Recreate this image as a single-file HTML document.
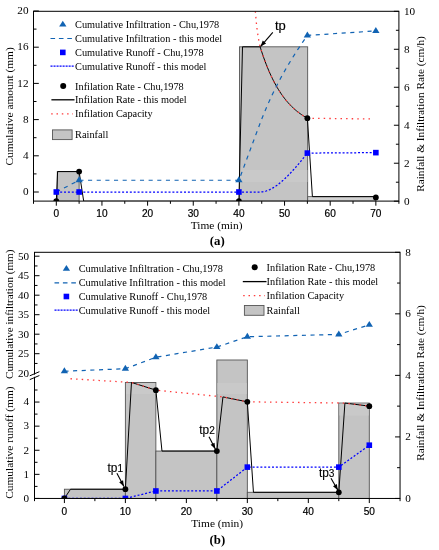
<!DOCTYPE html>
<html lang="en"><head><meta charset="utf-8"><title>Figure</title>
<style>html,body{margin:0;padding:0;background:#fff}body{width:439px;height:550px;overflow:hidden}svg text{fill:#000}</style>
</head><body>
<svg width="439" height="550" viewBox="0 0 439 550" style="display:block">
<rect width="439" height="550" fill="#fff"/>
<clipPath id="c1"><rect x="33.5" y="11.3" width="365.4" height="189.79999999999998"/></clipPath>
<g clip-path="url(#c1)">
<rect x="57.30" y="171.58" width="21.83" height="29.52" fill="#c4c4c4" stroke="#555555" stroke-width="0.9"/>
<rect x="239.50" y="46.81" width="68.17" height="154.29" fill="#c4c4c4" stroke="#555555" stroke-width="0.9"/>
<rect x="307.68" y="196.64" width="68.18" height="4.46" fill="#d2d2d2" stroke="#555555" stroke-width="0.9"/>
<rect x="240.10" y="170" width="67.27" height="12" fill="#c9c9c9"/>
<polyline points="56.30,201.20 57.60,171.58 79.12,171.58 83.69,201.20 238.90,201.20 242.50,46.81 260.13,46.81 260.13,46.81 261.34,50.63 262.55,54.28 263.76,57.77 264.97,61.11 266.18,64.29 267.40,67.34 268.61,70.25 269.82,73.03 271.03,75.69 272.24,78.22 273.45,80.65 274.67,82.97 275.88,85.18 277.09,87.30 278.30,89.32 279.51,91.26 280.72,93.10 281.93,94.87 283.15,96.55 284.36,98.17 285.57,99.71 286.78,101.18 287.99,102.58 289.20,103.93 290.41,105.21 291.63,106.44 292.84,107.61 294.05,108.73 295.26,109.80 296.47,110.83 297.68,111.80 298.89,112.74 300.11,113.63 301.32,114.48 302.53,115.30 303.74,116.08 304.95,116.82 306.16,117.53 307.38,118.21 312.40,196.64 375.85,196.64" fill="none" stroke="#000" stroke-width="1.0" stroke-linejoin="round"/>
<polyline points="255.33,11.30 256.70,26.49 258.30,37.89 260.13,46.81 260.13,46.81 261.34,50.63 262.55,54.28 263.76,57.77 264.97,61.11 266.18,64.29 267.40,67.34 268.61,70.25 269.82,73.03 271.03,75.69 272.24,78.22 273.45,80.65 274.67,82.97 275.88,85.18 277.09,87.30 278.30,89.32 279.51,91.26 280.72,93.10 281.93,94.87 283.15,96.55 284.36,98.17 285.57,99.71 286.78,101.18 287.99,102.58 289.20,103.93 290.41,105.21 291.63,106.44 292.84,107.61 294.05,108.73 295.26,109.80 296.47,110.83 297.68,111.80 298.89,112.74 300.11,113.63 301.32,114.48 302.53,115.30 303.74,116.08 304.95,116.82 306.16,117.53 307.38,118.21 321.07,118.40 373.57,118.97" fill="none" stroke="#ff3b3b" stroke-width="1.3" stroke-dasharray="1.5 4.1" />
<polyline points="56.30,192.00 79.12,180.24 238.90,180.24 260.13,123.21 260.13,123.21 261.34,120.05 262.55,116.97 263.76,113.97 264.97,111.03 266.18,108.16 267.40,105.36 268.61,102.62 269.82,99.93 271.03,97.30 272.24,94.73 273.45,92.21 274.67,89.74 275.88,87.31 277.09,84.93 278.30,82.59 279.51,80.29 280.72,78.04 281.93,75.82 283.15,73.63 284.36,71.48 285.57,69.36 286.78,67.27 287.99,65.22 289.20,63.19 290.41,61.19 291.63,59.21 292.84,57.26 294.05,55.33 295.26,53.43 296.47,51.55 297.68,49.69 298.89,47.84 300.11,46.02 301.32,44.22 302.53,42.43 303.74,40.66 304.95,38.90 306.16,37.16 307.38,35.43 375.85,30.91" fill="none" stroke="#1163b3" stroke-width="1.2" stroke-dasharray="4.1 4.55" />
<polyline points="56.30,192.00 238.90,192.00 260.13,192.00 260.13,192.00 261.34,191.96 262.55,191.84 263.76,191.63 264.97,191.36 266.18,191.01 267.40,190.60 268.61,190.12 269.82,189.58 271.03,188.97 272.24,188.32 273.45,187.60 274.67,186.84 275.88,186.03 277.09,185.17 278.30,184.26 279.51,183.31 280.72,182.32 281.93,181.29 283.15,180.23 284.36,179.12 285.57,177.99 286.78,176.82 287.99,175.61 289.20,174.38 290.41,173.12 291.63,171.83 292.84,170.52 294.05,169.18 295.26,167.82 296.47,166.43 297.68,165.02 298.89,163.60 300.11,162.15 301.32,160.68 302.53,159.19 303.74,157.69 304.95,156.17 306.16,154.64 307.38,153.09 375.85,152.63" fill="none" stroke="#0000ff" stroke-width="1.25" stroke-dasharray="2 1.87" />
</g>
<g clip-path="url(#c1)">
<circle cx="56.30" cy="201.20" r="2.9" fill="#000"/>
<circle cx="238.90" cy="201.20" r="2.9" fill="#000"/>
</g>
<circle cx="79.12" cy="171.58" r="2.9" fill="#000"/>
<circle cx="307.38" cy="118.21" r="2.9" fill="#000"/>
<circle cx="375.85" cy="197.40" r="2.9" fill="#000"/>
<polygon points="79.12,176.34 75.47,182.24 82.78,182.24" fill="#1163b3"/>
<polygon points="238.90,176.34 235.25,182.24 242.55,182.24" fill="#1163b3"/>
<polygon points="307.38,31.53 303.73,37.43 311.02,37.43" fill="#1163b3"/>
<polygon points="375.85,27.01 372.20,32.91 379.50,32.91" fill="#1163b3"/>
<rect x="53.50" y="189.20" width="5.60" height="5.60" fill="#0000ff"/>
<rect x="76.33" y="189.20" width="5.60" height="5.60" fill="#0000ff"/>
<rect x="236.10" y="189.20" width="5.60" height="5.60" fill="#0000ff"/>
<rect x="304.57" y="150.28" width="5.60" height="5.60" fill="#0000ff"/>
<rect x="373.05" y="149.83" width="5.60" height="5.60" fill="#0000ff"/>
<rect x="33.5" y="11.3" width="365.4" height="189.79999999999998" fill="none" stroke="#000" stroke-width="1"/>
<line x1="33.50" y1="192.00" x2="38.80" y2="192.00" stroke="#000" stroke-width="1"/>
<text x="28.50" y="195.20" font-family="Liberation Serif, serif" font-size="11.2" text-anchor="end" font-weight="normal" >0</text>
<line x1="33.50" y1="173.90" x2="36.50" y2="173.90" stroke="#000" stroke-width="1"/>
<line x1="33.50" y1="155.80" x2="38.80" y2="155.80" stroke="#000" stroke-width="1"/>
<text x="28.50" y="159.00" font-family="Liberation Serif, serif" font-size="11.2" text-anchor="end" font-weight="normal" >4</text>
<line x1="33.50" y1="137.70" x2="36.50" y2="137.70" stroke="#000" stroke-width="1"/>
<line x1="33.50" y1="119.60" x2="38.80" y2="119.60" stroke="#000" stroke-width="1"/>
<text x="28.50" y="122.80" font-family="Liberation Serif, serif" font-size="11.2" text-anchor="end" font-weight="normal" >8</text>
<line x1="33.50" y1="101.50" x2="36.50" y2="101.50" stroke="#000" stroke-width="1"/>
<line x1="33.50" y1="83.40" x2="38.80" y2="83.40" stroke="#000" stroke-width="1"/>
<text x="28.50" y="86.60" font-family="Liberation Serif, serif" font-size="11.2" text-anchor="end" font-weight="normal" >12</text>
<line x1="33.50" y1="65.30" x2="36.50" y2="65.30" stroke="#000" stroke-width="1"/>
<line x1="33.50" y1="47.20" x2="38.80" y2="47.20" stroke="#000" stroke-width="1"/>
<text x="28.50" y="50.40" font-family="Liberation Serif, serif" font-size="11.2" text-anchor="end" font-weight="normal" >16</text>
<line x1="33.50" y1="29.10" x2="36.50" y2="29.10" stroke="#000" stroke-width="1"/>
<line x1="33.50" y1="11.00" x2="38.80" y2="11.00" stroke="#000" stroke-width="1"/>
<text x="28.50" y="14.20" font-family="Liberation Serif, serif" font-size="11.2" text-anchor="end" font-weight="normal" >20</text>
<line x1="393.90" y1="201.20" x2="398.90" y2="201.20" stroke="#000" stroke-width="1"/>
<text x="403.90" y="204.50" font-family="Liberation Serif, serif" font-size="11.2" text-anchor="start" font-weight="normal" >0</text>
<line x1="395.90" y1="182.21" x2="398.90" y2="182.21" stroke="#000" stroke-width="1"/>
<line x1="393.90" y1="163.22" x2="398.90" y2="163.22" stroke="#000" stroke-width="1"/>
<text x="403.90" y="166.52" font-family="Liberation Serif, serif" font-size="11.2" text-anchor="start" font-weight="normal" >2</text>
<line x1="395.90" y1="144.23" x2="398.90" y2="144.23" stroke="#000" stroke-width="1"/>
<line x1="393.90" y1="125.24" x2="398.90" y2="125.24" stroke="#000" stroke-width="1"/>
<text x="403.90" y="128.54" font-family="Liberation Serif, serif" font-size="11.2" text-anchor="start" font-weight="normal" >4</text>
<line x1="395.90" y1="106.25" x2="398.90" y2="106.25" stroke="#000" stroke-width="1"/>
<line x1="393.90" y1="87.26" x2="398.90" y2="87.26" stroke="#000" stroke-width="1"/>
<text x="403.90" y="90.56" font-family="Liberation Serif, serif" font-size="11.2" text-anchor="start" font-weight="normal" >6</text>
<line x1="395.90" y1="68.27" x2="398.90" y2="68.27" stroke="#000" stroke-width="1"/>
<line x1="393.90" y1="49.28" x2="398.90" y2="49.28" stroke="#000" stroke-width="1"/>
<text x="403.90" y="52.58" font-family="Liberation Serif, serif" font-size="11.2" text-anchor="start" font-weight="normal" >8</text>
<line x1="395.90" y1="30.29" x2="398.90" y2="30.29" stroke="#000" stroke-width="1"/>
<line x1="393.90" y1="11.30" x2="398.90" y2="11.30" stroke="#000" stroke-width="1"/>
<text x="403.90" y="14.60" font-family="Liberation Serif, serif" font-size="11.2" text-anchor="start" font-weight="normal" >10</text>
<line x1="33.50" y1="201.10" x2="33.50" y2="203.80" stroke="#000" stroke-width="1"/>
<line x1="56.30" y1="201.10" x2="56.30" y2="205.70" stroke="#000" stroke-width="1"/>
<text x="56.30" y="217.00" font-family="Liberation Sans, serif" font-size="10.1" text-anchor="middle" font-weight="normal" stroke="#000" stroke-width="0.2">0</text>
<line x1="79.12" y1="201.10" x2="79.12" y2="203.80" stroke="#000" stroke-width="1"/>
<line x1="101.95" y1="201.10" x2="101.95" y2="205.70" stroke="#000" stroke-width="1"/>
<text x="101.95" y="217.00" font-family="Liberation Sans, serif" font-size="10.1" text-anchor="middle" font-weight="normal" stroke="#000" stroke-width="0.2">10</text>
<line x1="124.78" y1="201.10" x2="124.78" y2="203.80" stroke="#000" stroke-width="1"/>
<line x1="147.60" y1="201.10" x2="147.60" y2="205.70" stroke="#000" stroke-width="1"/>
<text x="147.60" y="217.00" font-family="Liberation Sans, serif" font-size="10.1" text-anchor="middle" font-weight="normal" stroke="#000" stroke-width="0.2">20</text>
<line x1="170.43" y1="201.10" x2="170.43" y2="203.80" stroke="#000" stroke-width="1"/>
<line x1="193.25" y1="201.10" x2="193.25" y2="205.70" stroke="#000" stroke-width="1"/>
<text x="193.25" y="217.00" font-family="Liberation Sans, serif" font-size="10.1" text-anchor="middle" font-weight="normal" stroke="#000" stroke-width="0.2">30</text>
<line x1="216.07" y1="201.10" x2="216.07" y2="203.80" stroke="#000" stroke-width="1"/>
<line x1="238.90" y1="201.10" x2="238.90" y2="205.70" stroke="#000" stroke-width="1"/>
<text x="238.90" y="217.00" font-family="Liberation Sans, serif" font-size="10.1" text-anchor="middle" font-weight="normal" stroke="#000" stroke-width="0.2">40</text>
<line x1="261.73" y1="201.10" x2="261.73" y2="203.80" stroke="#000" stroke-width="1"/>
<line x1="284.55" y1="201.10" x2="284.55" y2="205.70" stroke="#000" stroke-width="1"/>
<text x="284.55" y="217.00" font-family="Liberation Sans, serif" font-size="10.1" text-anchor="middle" font-weight="normal" stroke="#000" stroke-width="0.2">50</text>
<line x1="307.38" y1="201.10" x2="307.38" y2="203.80" stroke="#000" stroke-width="1"/>
<line x1="330.20" y1="201.10" x2="330.20" y2="205.70" stroke="#000" stroke-width="1"/>
<text x="330.20" y="217.00" font-family="Liberation Sans, serif" font-size="10.1" text-anchor="middle" font-weight="normal" stroke="#000" stroke-width="0.2">60</text>
<line x1="353.03" y1="201.10" x2="353.03" y2="203.80" stroke="#000" stroke-width="1"/>
<line x1="375.85" y1="201.10" x2="375.85" y2="205.70" stroke="#000" stroke-width="1"/>
<text x="375.85" y="217.00" font-family="Liberation Sans, serif" font-size="10.1" text-anchor="middle" font-weight="normal" stroke="#000" stroke-width="0.2">70</text>
<line x1="398.90" y1="201.10" x2="398.90" y2="203.80" stroke="#000" stroke-width="1"/>
<text x="216.60" y="229.30" font-family="Liberation Serif, serif" font-size="11.4" text-anchor="middle" font-weight="normal" >Time (min)</text>
<text x="217.20" y="245.30" font-family="Liberation Serif, serif" font-size="12.8" text-anchor="middle" font-weight="bold" >(a)</text>
<text transform="translate(13.10,106.40) rotate(-90)" font-family="Liberation Serif, serif" font-size="11.4" text-anchor="middle">Cumulative amount (mm)</text>
<text transform="translate(424.20,114.00) rotate(-90)" font-family="Liberation Serif, serif" font-size="11.25" text-anchor="middle">Rainfall &amp; Infiltration Rate (cm/h)</text>
<text x="274.90" y="29.70" font-family="Liberation Sans, serif" font-size="13" text-anchor="start" font-weight="normal" stroke="#000" stroke-width="0.15">tp</text>
<line x1="272.80" y1="32.40" x2="260.50" y2="46.60" stroke="#000" stroke-width="1.1"/><polygon points="260.50,46.60 262.77,40.62 266.09,43.51" fill="#000"/>
<text x="75.10" y="28.10" font-family="Liberation Serif, serif" font-size="10.3" text-anchor="start" font-weight="normal" >Cumulative Infiltration - Chu,1978</text>
<text x="75.10" y="42.00" font-family="Liberation Serif, serif" font-size="10.3" text-anchor="start" font-weight="normal" >Cumulative Infiltration - this model</text>
<text x="75.10" y="55.90" font-family="Liberation Serif, serif" font-size="10.3" text-anchor="start" font-weight="normal" >Cumulative Runoff - Chu,1978</text>
<text x="75.10" y="69.50" font-family="Liberation Serif, serif" font-size="10.3" text-anchor="start" font-weight="normal" >Cumulative Runoff - this model</text>
<text x="75.10" y="89.50" font-family="Liberation Serif, serif" font-size="10.3" text-anchor="start" font-weight="normal" >Infilation Rate - Chu,1978</text>
<text x="75.10" y="103.30" font-family="Liberation Serif, serif" font-size="10.3" text-anchor="start" font-weight="normal" >Infilation Rate - this model</text>
<text x="75.10" y="117.30" font-family="Liberation Serif, serif" font-size="10.3" text-anchor="start" font-weight="normal" >Infilation Capacity</text>
<text x="75.10" y="138.30" font-family="Liberation Serif, serif" font-size="10.3" text-anchor="start" font-weight="normal" >Rainfall</text>
<polygon points="62.80,20.70 59.15,26.60 66.45,26.60" fill="#1163b3"/>
<polyline points="50.50,38.50 73.00,38.50" fill="none" stroke="#1163b3" stroke-width="1.2" stroke-dasharray="4.6 3.8" />
<rect x="60.00" y="49.60" width="5.60" height="5.60" fill="#0000ff"/>
<polyline points="50.50,66.00 74.50,66.00" fill="none" stroke="#0000ff" stroke-width="1.25" stroke-dasharray="2.05 0.97" />
<circle cx="63.20" cy="86.00" r="3.0" fill="#000"/>
<line x1="51.40" y1="99.80" x2="74.50" y2="99.80" stroke="#000" stroke-width="1.3"/>
<polyline points="51.20,113.80 73.00,113.80" fill="none" stroke="#ff3b3b" stroke-width="1.3" stroke-dasharray="1.5 3.8" />
<rect x="52.5" y="129.9" width="19.6" height="9.7" fill="#c4c4c4" stroke="#555555" stroke-width="0.9"/>
<clipPath id="c2"><rect x="34.5" y="252.3" width="365.55" height="246.14999999999998"/></clipPath>
<g clip-path="url(#c2)">
<rect x="64.40" y="489.22" width="60.98" height="9.23" fill="#c4c4c4" stroke="#555555" stroke-width="0.9"/>
<rect x="125.38" y="382.45" width="30.49" height="116.00" fill="#c4c4c4" stroke="#555555" stroke-width="0.9"/>
<rect x="155.87" y="451.06" width="60.98" height="47.39" fill="#c4c4c4" stroke="#555555" stroke-width="0.9"/>
<rect x="216.85" y="359.99" width="30.49" height="138.46" fill="#c4c4c4" stroke="#555555" stroke-width="0.9"/>
<rect x="247.34" y="492.30" width="91.47" height="6.15" fill="#c4c4c4" stroke="#555555" stroke-width="0.9"/>
<rect x="338.81" y="403.06" width="30.49" height="95.39" fill="#c4c4c4" stroke="#555555" stroke-width="0.9"/>
<rect x="125.98" y="383.40" width="29.29" height="10.60" fill="#c9c9c9"/>
<rect x="217.45" y="383.00" width="29.29" height="11.00" fill="#c9c9c9"/>
<rect x="339.41" y="403.60" width="29.29" height="11.90" fill="#c9c9c9"/>
<polyline points="64.40,498.45 70.50,489.22 125.38,489.22 131.48,382.45 155.87,390.14 161.97,451.06 216.85,451.06 222.95,396.91 247.34,401.83 253.44,492.30 338.81,492.30 344.91,403.06 369.30,406.14" fill="none" stroke="#000" stroke-width="1.0" stroke-linejoin="round"/>
<polyline points="70.50,378.75 131.48,382.45 155.87,390.14 222.95,396.91 247.34,401.83 344.91,403.06 369.30,406.14" fill="none" stroke="#ff3b3b" stroke-width="1.3" stroke-dasharray="1.5 4.1" />
<polyline points="64.40,498.45 125.38,498.45 155.87,490.98 216.85,490.98 247.34,467.12 338.81,467.12 369.30,445.19" fill="none" stroke="#0000ff" stroke-width="1.25" stroke-dasharray="2 1.87" />
</g>
<polyline points="64.40,371.25 125.38,368.71 155.87,357.21 216.85,347.07 247.34,336.74 338.81,334.39 369.30,324.84" fill="none" stroke="#1163b3" stroke-width="1.2" stroke-dasharray="4.1 4.55" />
<g clip-path="url(#c2)">
<rect x="61.60" y="495.65" width="5.60" height="5.60" fill="#0000ff"/>
<circle cx="64.40" cy="498.45" r="2.9" fill="#000"/>
<rect x="122.58" y="495.65" width="5.60" height="5.60" fill="#0000ff"/>
</g>
<circle cx="125.38" cy="489.22" r="2.9" fill="#000"/>
<circle cx="155.87" cy="390.14" r="2.9" fill="#000"/>
<circle cx="216.85" cy="451.06" r="2.9" fill="#000"/>
<circle cx="247.34" cy="401.83" r="2.9" fill="#000"/>
<circle cx="338.81" cy="492.30" r="2.9" fill="#000"/>
<circle cx="369.30" cy="406.14" r="2.9" fill="#000"/>
<rect x="153.07" y="488.18" width="5.60" height="5.60" fill="#0000ff"/>
<rect x="214.05" y="488.18" width="5.60" height="5.60" fill="#0000ff"/>
<rect x="244.54" y="464.32" width="5.60" height="5.60" fill="#0000ff"/>
<rect x="336.01" y="464.32" width="5.60" height="5.60" fill="#0000ff"/>
<rect x="366.50" y="442.39" width="5.60" height="5.60" fill="#0000ff"/>
<polygon points="64.40,367.35 60.75,373.25 68.05,373.25" fill="#1163b3"/>
<polygon points="125.38,364.81 121.73,370.71 129.03,370.71" fill="#1163b3"/>
<polygon points="155.87,353.31 152.22,359.21 159.52,359.21" fill="#1163b3"/>
<polygon points="216.85,343.17 213.20,349.07 220.50,349.07" fill="#1163b3"/>
<polygon points="247.34,332.84 243.69,338.74 250.99,338.74" fill="#1163b3"/>
<polygon points="338.81,330.50 335.16,336.39 342.46,336.39" fill="#1163b3"/>
<polygon points="369.30,320.94 365.65,326.84 372.95,326.84" fill="#1163b3"/>
<rect x="34.5" y="252.3" width="365.55" height="246.14999999999998" fill="none" stroke="#000" stroke-width="1"/>
<rect x="32.5" y="374.6" width="4" height="2.2" fill="#fff"/>
<line x1="29.80" y1="375.80" x2="39.40" y2="371.70" stroke="#000" stroke-width="1.0"/>
<line x1="29.80" y1="379.60" x2="39.40" y2="375.50" stroke="#000" stroke-width="1.0"/>
<text x="29.10" y="376.50" font-family="Liberation Serif, serif" font-size="11.1" text-anchor="end" font-weight="normal" >20</text>
<line x1="34.50" y1="363.45" x2="37.50" y2="363.45" stroke="#000" stroke-width="1"/>
<line x1="34.50" y1="353.70" x2="39.50" y2="353.70" stroke="#000" stroke-width="1"/>
<text x="29.10" y="357.00" font-family="Liberation Serif, serif" font-size="11.1" text-anchor="end" font-weight="normal" >25</text>
<line x1="34.50" y1="343.95" x2="37.50" y2="343.95" stroke="#000" stroke-width="1"/>
<line x1="34.50" y1="334.20" x2="39.50" y2="334.20" stroke="#000" stroke-width="1"/>
<text x="29.10" y="337.50" font-family="Liberation Serif, serif" font-size="11.1" text-anchor="end" font-weight="normal" >30</text>
<line x1="34.50" y1="324.45" x2="37.50" y2="324.45" stroke="#000" stroke-width="1"/>
<line x1="34.50" y1="314.70" x2="39.50" y2="314.70" stroke="#000" stroke-width="1"/>
<text x="29.10" y="318.00" font-family="Liberation Serif, serif" font-size="11.1" text-anchor="end" font-weight="normal" >35</text>
<line x1="34.50" y1="304.95" x2="37.50" y2="304.95" stroke="#000" stroke-width="1"/>
<line x1="34.50" y1="295.20" x2="39.50" y2="295.20" stroke="#000" stroke-width="1"/>
<text x="29.10" y="298.50" font-family="Liberation Serif, serif" font-size="11.1" text-anchor="end" font-weight="normal" >40</text>
<line x1="34.50" y1="285.45" x2="37.50" y2="285.45" stroke="#000" stroke-width="1"/>
<line x1="34.50" y1="275.70" x2="39.50" y2="275.70" stroke="#000" stroke-width="1"/>
<text x="29.10" y="279.00" font-family="Liberation Serif, serif" font-size="11.1" text-anchor="end" font-weight="normal" >45</text>
<line x1="34.50" y1="265.95" x2="37.50" y2="265.95" stroke="#000" stroke-width="1"/>
<line x1="34.50" y1="256.20" x2="39.50" y2="256.20" stroke="#000" stroke-width="1"/>
<text x="29.10" y="259.50" font-family="Liberation Serif, serif" font-size="11.1" text-anchor="end" font-weight="normal" >50</text>
<line x1="34.50" y1="498.45" x2="39.50" y2="498.45" stroke="#000" stroke-width="1"/>
<text x="29.10" y="501.75" font-family="Liberation Serif, serif" font-size="11.1" text-anchor="end" font-weight="normal" >0</text>
<line x1="34.50" y1="486.40" x2="37.50" y2="486.40" stroke="#000" stroke-width="1"/>
<line x1="34.50" y1="474.35" x2="39.50" y2="474.35" stroke="#000" stroke-width="1"/>
<text x="29.10" y="477.65" font-family="Liberation Serif, serif" font-size="11.1" text-anchor="end" font-weight="normal" >1</text>
<line x1="34.50" y1="462.30" x2="37.50" y2="462.30" stroke="#000" stroke-width="1"/>
<line x1="34.50" y1="450.25" x2="39.50" y2="450.25" stroke="#000" stroke-width="1"/>
<text x="29.10" y="453.55" font-family="Liberation Serif, serif" font-size="11.1" text-anchor="end" font-weight="normal" >2</text>
<line x1="34.50" y1="438.20" x2="37.50" y2="438.20" stroke="#000" stroke-width="1"/>
<line x1="34.50" y1="426.15" x2="39.50" y2="426.15" stroke="#000" stroke-width="1"/>
<text x="29.10" y="429.45" font-family="Liberation Serif, serif" font-size="11.1" text-anchor="end" font-weight="normal" >3</text>
<line x1="34.50" y1="414.10" x2="37.50" y2="414.10" stroke="#000" stroke-width="1"/>
<line x1="34.50" y1="402.05" x2="39.50" y2="402.05" stroke="#000" stroke-width="1"/>
<text x="29.10" y="405.35" font-family="Liberation Serif, serif" font-size="11.1" text-anchor="end" font-weight="normal" >4</text>
<line x1="34.50" y1="390.00" x2="37.50" y2="390.00" stroke="#000" stroke-width="1"/>
<line x1="395.05" y1="498.45" x2="400.05" y2="498.45" stroke="#000" stroke-width="1"/>
<text x="405.25" y="501.85" font-family="Liberation Serif, serif" font-size="11.2" text-anchor="start" font-weight="normal" >0</text>
<line x1="397.05" y1="467.68" x2="400.05" y2="467.68" stroke="#000" stroke-width="1"/>
<line x1="395.05" y1="436.91" x2="400.05" y2="436.91" stroke="#000" stroke-width="1"/>
<text x="405.25" y="440.31" font-family="Liberation Serif, serif" font-size="11.2" text-anchor="start" font-weight="normal" >2</text>
<line x1="397.05" y1="406.14" x2="400.05" y2="406.14" stroke="#000" stroke-width="1"/>
<line x1="395.05" y1="375.37" x2="400.05" y2="375.37" stroke="#000" stroke-width="1"/>
<text x="405.25" y="378.77" font-family="Liberation Serif, serif" font-size="11.2" text-anchor="start" font-weight="normal" >4</text>
<line x1="397.05" y1="344.60" x2="400.05" y2="344.60" stroke="#000" stroke-width="1"/>
<line x1="395.05" y1="313.83" x2="400.05" y2="313.83" stroke="#000" stroke-width="1"/>
<text x="405.25" y="317.23" font-family="Liberation Serif, serif" font-size="11.2" text-anchor="start" font-weight="normal" >6</text>
<line x1="397.05" y1="283.06" x2="400.05" y2="283.06" stroke="#000" stroke-width="1"/>
<line x1="395.05" y1="252.29" x2="400.05" y2="252.29" stroke="#000" stroke-width="1"/>
<text x="405.25" y="255.69" font-family="Liberation Serif, serif" font-size="11.2" text-anchor="start" font-weight="normal" >8</text>
<line x1="34.50" y1="498.45" x2="34.50" y2="501.15" stroke="#000" stroke-width="1"/>
<line x1="64.40" y1="498.45" x2="64.40" y2="503.05" stroke="#000" stroke-width="1"/>
<text x="64.40" y="514.65" font-family="Liberation Sans, serif" font-size="10.1" text-anchor="middle" font-weight="normal" stroke="#000" stroke-width="0.2">0</text>
<line x1="94.89" y1="498.45" x2="94.89" y2="501.15" stroke="#000" stroke-width="1"/>
<line x1="125.38" y1="498.45" x2="125.38" y2="503.05" stroke="#000" stroke-width="1"/>
<text x="125.38" y="514.65" font-family="Liberation Sans, serif" font-size="10.1" text-anchor="middle" font-weight="normal" stroke="#000" stroke-width="0.2">10</text>
<line x1="155.87" y1="498.45" x2="155.87" y2="501.15" stroke="#000" stroke-width="1"/>
<line x1="186.36" y1="498.45" x2="186.36" y2="503.05" stroke="#000" stroke-width="1"/>
<text x="186.36" y="514.65" font-family="Liberation Sans, serif" font-size="10.1" text-anchor="middle" font-weight="normal" stroke="#000" stroke-width="0.2">20</text>
<line x1="216.85" y1="498.45" x2="216.85" y2="501.15" stroke="#000" stroke-width="1"/>
<line x1="247.34" y1="498.45" x2="247.34" y2="503.05" stroke="#000" stroke-width="1"/>
<text x="247.34" y="514.65" font-family="Liberation Sans, serif" font-size="10.1" text-anchor="middle" font-weight="normal" stroke="#000" stroke-width="0.2">30</text>
<line x1="277.83" y1="498.45" x2="277.83" y2="501.15" stroke="#000" stroke-width="1"/>
<line x1="308.32" y1="498.45" x2="308.32" y2="503.05" stroke="#000" stroke-width="1"/>
<text x="308.32" y="514.65" font-family="Liberation Sans, serif" font-size="10.1" text-anchor="middle" font-weight="normal" stroke="#000" stroke-width="0.2">40</text>
<line x1="338.81" y1="498.45" x2="338.81" y2="501.15" stroke="#000" stroke-width="1"/>
<line x1="369.30" y1="498.45" x2="369.30" y2="503.05" stroke="#000" stroke-width="1"/>
<text x="369.30" y="514.65" font-family="Liberation Sans, serif" font-size="10.1" text-anchor="middle" font-weight="normal" stroke="#000" stroke-width="0.2">50</text>
<line x1="400.05" y1="498.45" x2="400.05" y2="501.15" stroke="#000" stroke-width="1"/>
<text x="217.20" y="527.00" font-family="Liberation Serif, serif" font-size="11.4" text-anchor="middle" font-weight="normal" >Time (min)</text>
<text x="217.40" y="544.00" font-family="Liberation Serif, serif" font-size="12.8" text-anchor="middle" font-weight="bold" >(b)</text>
<text transform="translate(13.40,314.30) rotate(-90)" font-family="Liberation Serif, serif" font-size="11.1" text-anchor="middle">Cumulative infiltration (mm)</text>
<text transform="translate(13.40,442.60) rotate(-90)" font-family="Liberation Serif, serif" font-size="11.4" text-anchor="middle">Cumulative runoff (mm)</text>
<text transform="translate(424.20,383.00) rotate(-90)" font-family="Liberation Serif, serif" font-size="11.25" text-anchor="middle">Rainfall &amp; Infiltration Rate (cm/h)</text>
<text x="78.70" y="272.20" font-family="Liberation Serif, serif" font-size="10.3" text-anchor="start" font-weight="normal" >Cumulative Infiltration - Chu,1978</text>
<text x="78.70" y="286.20" font-family="Liberation Serif, serif" font-size="10.3" text-anchor="start" font-weight="normal" >Cumulative Infiltration - this model</text>
<text x="78.70" y="299.90" font-family="Liberation Serif, serif" font-size="10.3" text-anchor="start" font-weight="normal" >Cumulative Runoff - Chu,1978</text>
<text x="78.70" y="313.50" font-family="Liberation Serif, serif" font-size="10.3" text-anchor="start" font-weight="normal" >Cumulative Runoff - this model</text>
<polygon points="66.40,264.90 62.75,270.80 70.05,270.80" fill="#1163b3"/>
<polyline points="54.50,282.80 77.00,282.80" fill="none" stroke="#1163b3" stroke-width="1.2" stroke-dasharray="4.6 3.8" />
<rect x="63.60" y="293.70" width="5.60" height="5.60" fill="#0000ff"/>
<polyline points="54.50,310.10 78.30,310.10" fill="none" stroke="#0000ff" stroke-width="1.25" stroke-dasharray="2.05 0.97" />
<text x="266.60" y="270.70" font-family="Liberation Serif, serif" font-size="10.3" text-anchor="start" font-weight="normal" >Infilation Rate - Chu,1978</text>
<text x="266.60" y="285.00" font-family="Liberation Serif, serif" font-size="10.3" text-anchor="start" font-weight="normal" >Infilation Rate - this model</text>
<text x="266.60" y="299.10" font-family="Liberation Serif, serif" font-size="10.3" text-anchor="start" font-weight="normal" >Infilation Capacity</text>
<text x="266.60" y="313.80" font-family="Liberation Serif, serif" font-size="10.3" text-anchor="start" font-weight="normal" >Rainfall</text>
<circle cx="254.70" cy="267.30" r="3.0" fill="#000"/>
<line x1="242.80" y1="281.60" x2="266.50" y2="281.60" stroke="#000" stroke-width="1.3"/>
<polyline points="243.20,295.70 265.00,295.70" fill="none" stroke="#ff3b3b" stroke-width="1.3" stroke-dasharray="1.5 3.8" />
<rect x="244.4" y="305.5" width="19.6" height="9.8" fill="#c4c4c4" stroke="#555555" stroke-width="0.9"/>
<text x="107.5" y="471.5" font-family="Liberation Sans, sans-serif" font-size="11.9" stroke="#000" stroke-width="0.12">tp<tspan font-size="10.1" dy="0">1</tspan></text>
<line x1="116.90" y1="473.30" x2="123.90" y2="486.60" stroke="#000" stroke-width="1.1"/>
<polygon points="123.90,486.60 119.16,482.32 123.05,480.27" fill="#000"/>
<text x="199.3" y="433.7" font-family="Liberation Sans, sans-serif" font-size="11.9" stroke="#000" stroke-width="0.12">tp<tspan font-size="10.1" dy="0">2</tspan></text>
<line x1="209.00" y1="436.80" x2="215.30" y2="449.00" stroke="#000" stroke-width="1.1"/>
<polygon points="215.30,449.00 210.59,444.68 214.50,442.66" fill="#000"/>
<text x="318.9" y="477.2" font-family="Liberation Sans, sans-serif" font-size="11.9" stroke="#000" stroke-width="0.12">tp<tspan font-size="10.1" dy="0">3</tspan></text>
<line x1="331.00" y1="478.30" x2="337.90" y2="490.30" stroke="#000" stroke-width="1.1"/>
<polygon points="337.90,490.30 333.00,486.20 336.82,484.00" fill="#000"/>
</svg>
</body></html>
